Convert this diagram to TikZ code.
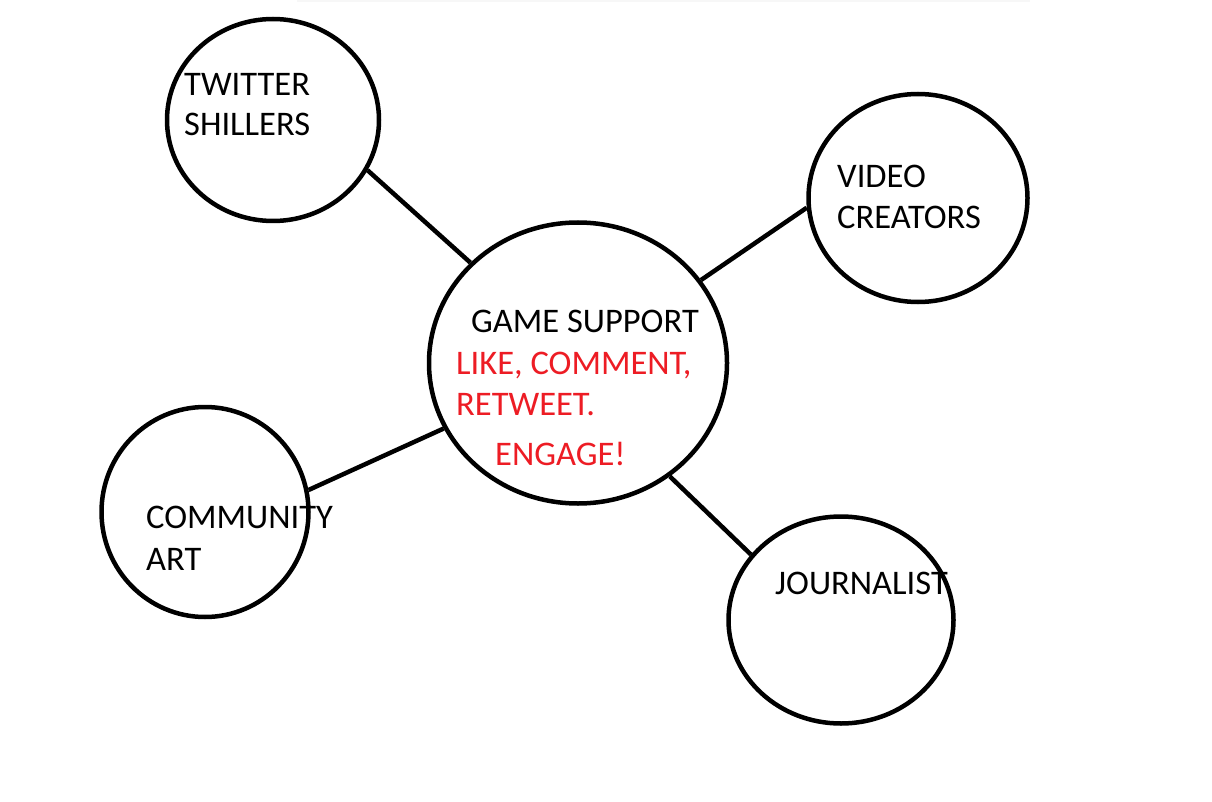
\documentclass[tikz,border=0pt]{standalone}
\usepackage{fontspec}
\setmainfont{Carlito}
\usetikzlibrary{shapes.geometric}
\definecolor{paintred}{RGB}{237,28,36}
\begin{document}
\begin{tikzpicture}[x=1pt,y=-1pt,
  bubble/.style={ellipse,draw=black,line width=4.5pt,inner sep=0pt},
  lbl/.style={anchor=base west,inner sep=0pt,font=\fontsize{34.5}{40}\selectfont},
  redlbl/.style={lbl,text=paintred},
  link/.style={draw=black,line width=4.5pt}]
\useasboundingbox (0,0) rectangle (1212,802);
\fill[white] (0,0) rectangle (1212,802);
\fill[black!3] (297,0) rectangle (1030,2.5);
% bubbles
\node[bubble,minimum width=212pt,minimum height=202pt] (tw) at (273,120) {};
\node[bubble,minimum width=219pt,minimum height=208pt] (vc) at (918,198) {};
\node[bubble,minimum width=298pt,minimum height=281pt] (gs) at (578,363) {};
\node[bubble,minimum width=207pt,minimum height=210pt] (ca) at (205,512) {};
\node[bubble,minimum width=225pt,minimum height=207pt] (jo) at (841,620) {};
% connectors
\draw[link] (tw.-28) -- (gs.137);
\draw[link] (vc.-175) -- (gs.34);
\draw[link] (ca.12) -- (gs.-154);
\draw[link] (jo.144) -- (gs.-51);
% labels
\node[lbl] (t1) at (184,96) {TWITTER};
\node[lbl] (t2) at (184,136) {SHILLERS};
\node[lbl] (v1) at (837,188) {VIDEO};
\node[lbl] (v2) at (837,229) {CREATORS};
\node[lbl] (g1) at (471,332) {GAME SUPPORT};
\node[redlbl] (g2) at (456,374) {LIKE, COMMENT,};
\node[redlbl] (g3) at (456,415) {RETWEET.};
\node[redlbl] (g4) at (495,465) {ENGAGE!};
\node[lbl] (c1) at (146,528) {COMMUNITY};
\node[lbl] (c2) at (146,570) {ART};
\node[lbl] (j1) at (775,594) {JOURNALIST};
\end{tikzpicture}
\end{document}
